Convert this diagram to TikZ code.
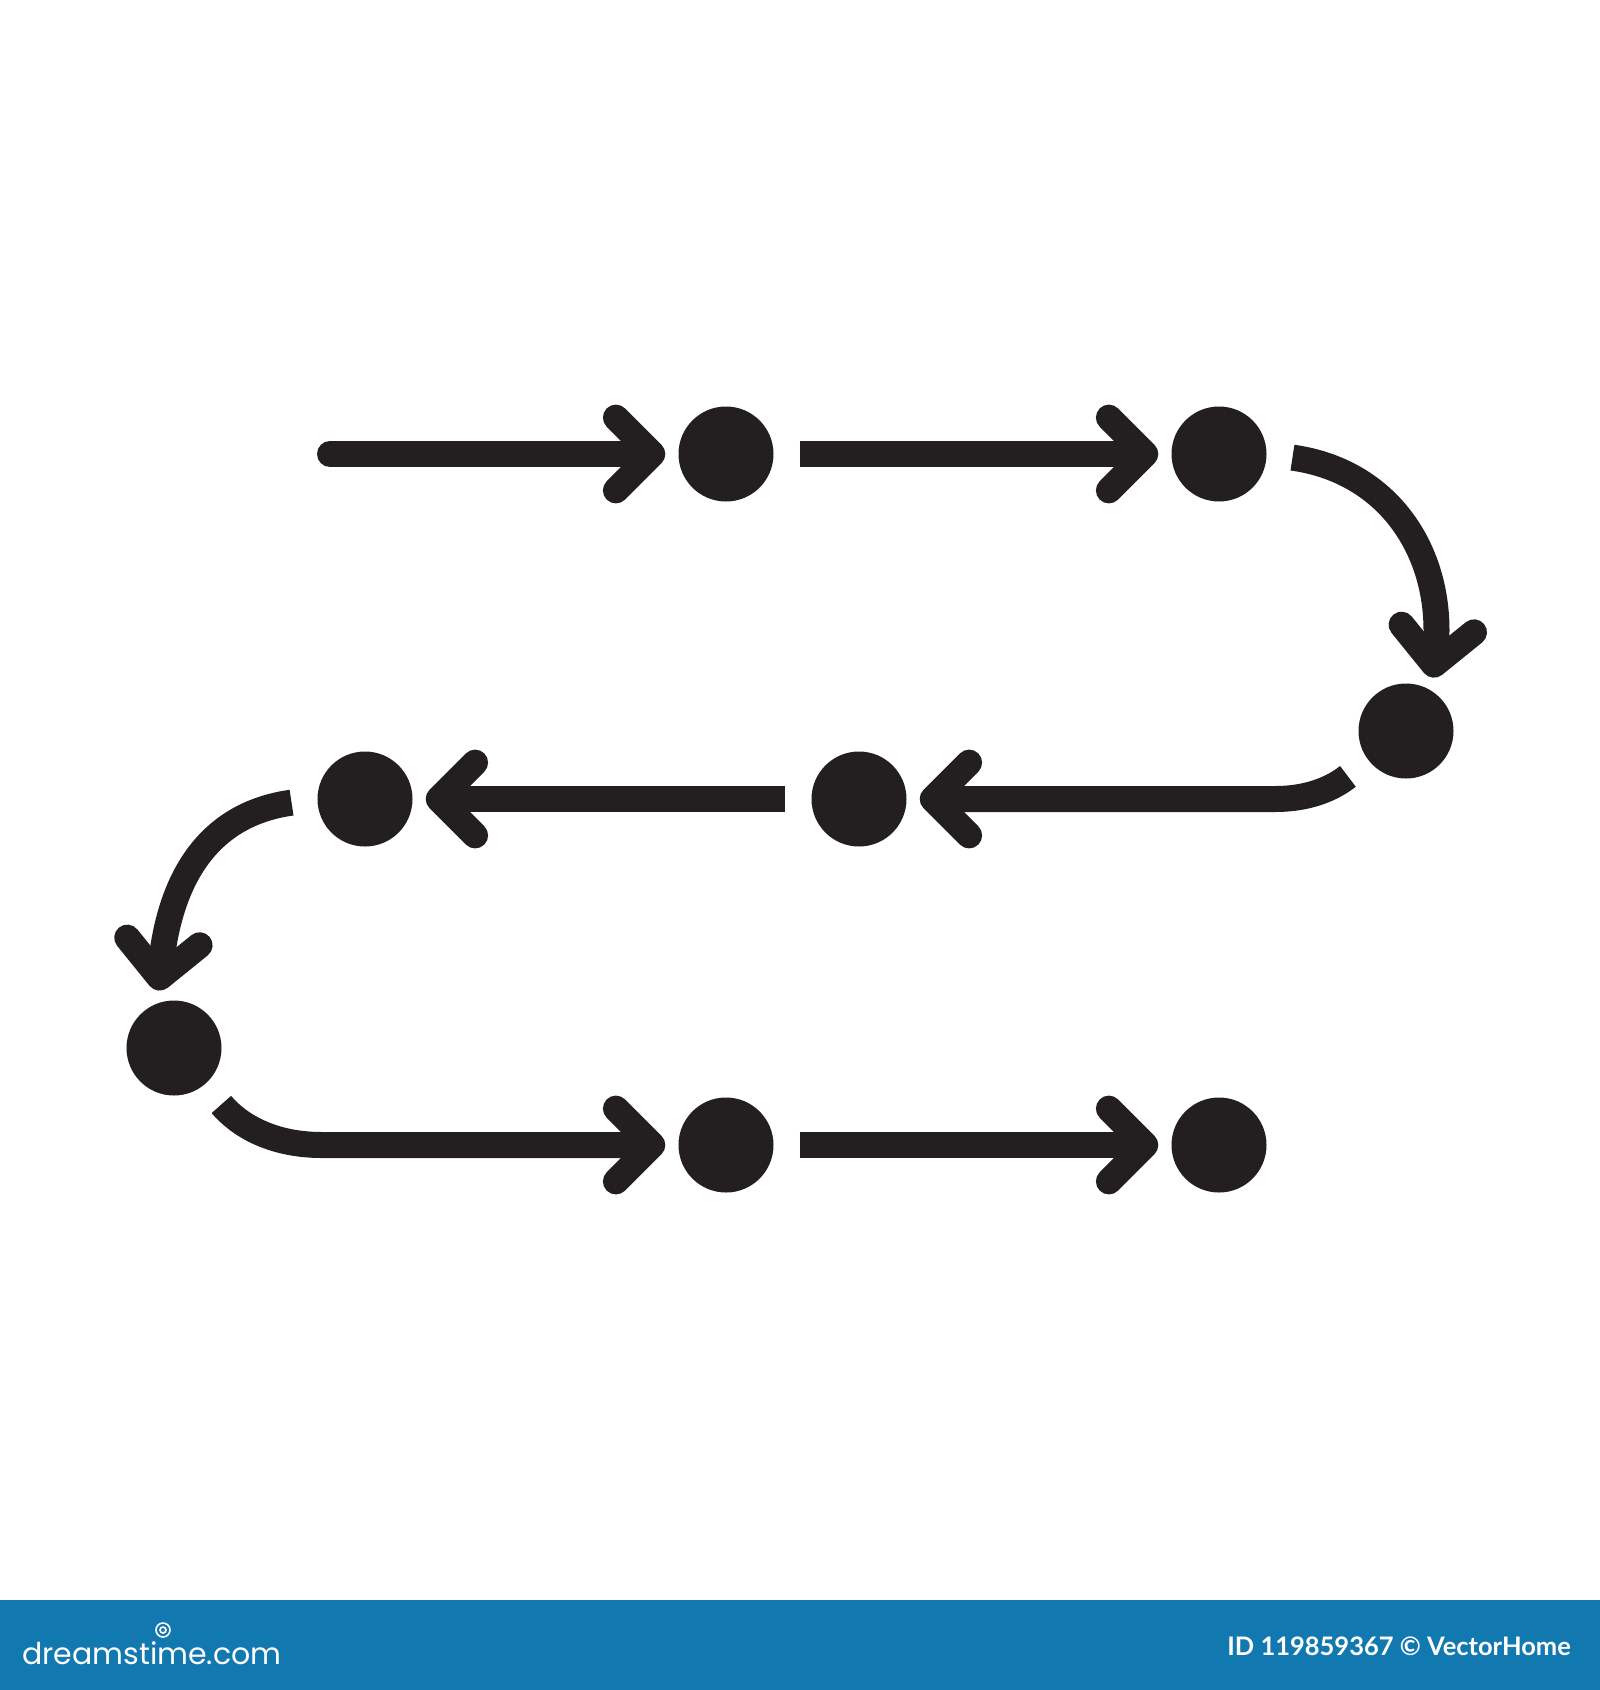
\documentclass[tikz,border=0pt]{standalone}
\usepackage{fontspec}
\usepackage{tikz}
\usetikzlibrary{arrows.meta}

\newfontfamily\logofont{Poppins}
\newfontfamily\idfont{Lato}

\definecolor{ink}{RGB}{35,31,32}
\definecolor{banner}{RGB}{18,120,176}

\pgfdeclarearrow{
  name = chevron,
  parameters = {\the\pgflinewidth},
  setup code = {
    \pgfarrowssettipend{.5\pgflinewidth}
    \pgfarrowssetlineend{-.5\pgflinewidth}
    \pgfarrowssetbackend{-1.9\pgflinewidth}
  },
  drawing code = {
    \pgfsetdash{}{0pt}
    \pgfsetroundcap
    \pgfsetroundjoin
    \pgfpathmoveto{\pgfqpoint{-1.4\pgflinewidth}{1.4\pgflinewidth}}
    \pgfpathlineto{\pgfpointorigin}
    \pgfpathlineto{\pgfqpoint{-1.4\pgflinewidth}{-1.4\pgflinewidth}}
    \pgfusepathqstroke
  },
}

\begin{document}
\begin{tikzpicture}[x=1pt, y=-1pt,
  dot/.style={circle, fill=ink, inner sep=0pt, minimum size=95pt},
  link/.style={draw=ink, line width=26pt, -chevron, shorten <=26pt, shorten >=13pt}]
  \useasboundingbox (0,0) rectangle (1600,1690);
  \node [dot] (1) at (726,454) {};
  \node [dot] (2) at (1219,454) {};
  \node [dot] (3) at (1406,731) {};
  \node [dot] (4) at (859,799) {};
  \node [dot] (5) at (365,799) {};
  \node [dot] (6) at (174,1048) {};
  \node [dot] (7) at (726,1145) {};
  \node [dot] (8) at (1219,1145) {};
  \coordinate (start) at (330,454);
  \coordinate (bend4) at (1275,799);
  \coordinate (bend7) at (322,1145);
  \draw [link, shorten <=0pt, line cap=round] (start) -- (1);
  \draw [link] (1) -- (2);
  \draw [link, looseness=1.15] (2.east) to[out=-8, in=84] (3.58);
  \draw [link] (3) to[out=218, in=0] (bend4) -- (4);
  \draw [link] (4) -- (5);
  \draw [link, looseness=1.15] (5.west) to[out=188, in=84] (6.111);
  \draw [link] (6) to[out=-50, in=180] (bend7) -- (7);
  \draw [link] (7) -- (8);
  % banner
  \fill [banner] (0,1600) rectangle (1600,1690);
  \node [anchor=base west, text=white, inner sep=0pt, font=\logofont\fontsize{30}{30}\selectfont] (logo) at (22,1664) {dreamstime.com};
  \draw [white, line width=1.6pt] (163,1630) circle [radius=7pt] (163,1630) circle [radius=3pt];
  \node [anchor=base east, text=white, inner sep=0pt, font=\idfont\bfseries\fontsize{25.5}{26}\selectfont] (credit) at (1571,1655) {ID 119859367 © VectorHome};
\end{tikzpicture}
\end{document}
